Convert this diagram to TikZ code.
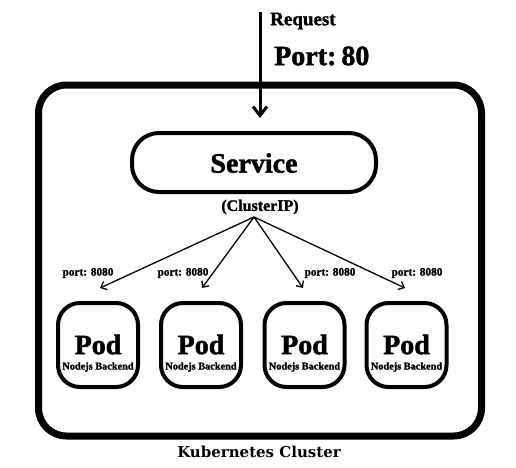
\documentclass[tikz,border=0pt]{standalone}
\usepackage{fontspec}
\setmainfont{Liberation Serif}[BoldFeatures={FakeBold=1.6}]
\newfontfamily\kfont{DejaVu Serif}
\usetikzlibrary{arrows.meta}
\tikzset{
  clusterbox/.style={draw, line width=7pt, rounded corners=28pt, minimum width=443pt, minimum height=351pt, inner sep=0pt},
  servicebox/.style={draw, line width=4pt, rounded corners=27pt, minimum width=244pt, minimum height=59pt, inner sep=0pt},
  podbox/.style={draw, line width=4pt, rounded corners=22pt, minimum width=80pt, minimum height=84pt, inner sep=0pt},
  bigtxt/.style={font=\fontsize{28}{28}\selectfont\bfseries, inner sep=0pt},
  podtxt/.style={font=\fontsize{28}{28}\selectfont\bfseries, inner sep=0pt},
  subtxt/.style={font=\fontsize{10.3}{11}\selectfont\bfseries, inner sep=0pt},
  porttxt/.style={font=\fontsize{11.3}{12}\selectfont\bfseries, inner sep=0pt},
  mainarrow/.style={line width=3pt, -{Straight Barb[length=9pt,width=14pt,line width=3pt]}},
  podarrow/.style={line width=1.3pt, -{Straight Barb[length=5pt,width=9pt,line width=1.3pt]}},
}
\begin{document}
\begin{tikzpicture}[x=1pt,y=-1pt]
\useasboundingbox (0,0) rectangle (516,467);
\node[clusterbox] (cluster) at (260,260.5) {};
\node[font=\kfont\fontsize{15}{16}\selectfont\bfseries, inner sep=0pt] (clabel) at (259,452) {Kubernetes Cluster};
\node[servicebox] (service) at (254,162.5) {};
\node[bigtxt] (stxt) at (254,163) {Service};
\node[font=\fontsize{16}{17}\selectfont\bfseries, inner sep=0pt] (cip) at (260,207) {(ClusterIP)};
\node[font=\fontsize{19}{20}\selectfont\bfseries, inner sep=0pt, anchor=west] (reqtxt) at (270,21) {Request};
\node[bigtxt, anchor=west] (porttxt) at (274,56) {Port:\kern5pt 80};
\coordinate (req) at (260,12);
\coordinate (reqend) at (260,118);
\draw[mainarrow] (req) -- (reqend);
\coordinate (hub) at (254,217);
\foreach \i/\x/\lx in {1/98/88, 2/201/183, 3/304.5/330, 4/406.5/417}{
  \node[podbox] (pod\i) at (\x,345) {};
  \node[podtxt] (podt\i) at (\x,344.5) {Pod};
  \node[subtxt] (pods\i) at (\x,367) {Nodejs Backend};
  \node[porttxt] (pl\i) at (\lx,273) {port: 8080};
}
\draw[podarrow] (hub) -- ([xshift=2pt,yshift=13pt]pod1.north);
\draw[podarrow] (hub) -- ([xshift=1pt,yshift=13pt]pod2.north);
\draw[podarrow] (hub) -- ([xshift=-1.5pt,yshift=13pt]pod3.north);
\draw[podarrow] (hub) -- ([xshift=-1.5pt,yshift=13pt]pod4.north);
\end{tikzpicture}
\end{document}
